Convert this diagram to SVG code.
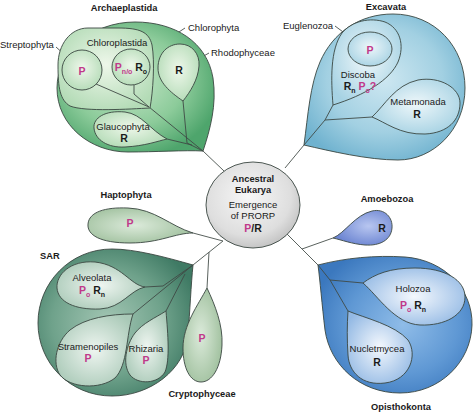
<svg xmlns="http://www.w3.org/2000/svg" width="474" height="413" viewBox="0 0 474 413">
<defs>
<radialGradient id="gArcO" cx="0.45" cy="0.45" r="0.6"><stop offset="0" stop-color="#c6e6c8"/><stop offset="0.6" stop-color="#8ccb9a"/><stop offset="1" stop-color="#4ea56c"/></radialGradient>
<radialGradient id="gArcI" cx="0.5" cy="0.45" r="0.6"><stop offset="0" stop-color="#eef7ea"/><stop offset="1" stop-color="#b3dbb6"/></radialGradient>
<radialGradient id="gExcO" cx="0.5" cy="0.45" r="0.6"><stop offset="0" stop-color="#cde7f1"/><stop offset="0.6" stop-color="#a2d0e2"/><stop offset="1" stop-color="#6fb2cf"/></radialGradient>
<radialGradient id="gExcI" cx="0.5" cy="0.45" r="0.6"><stop offset="0" stop-color="#eef7fa"/><stop offset="1" stop-color="#a6d2e3"/></radialGradient>
<radialGradient id="gOpiO" cx="0.55" cy="0.5" r="0.6"><stop offset="0" stop-color="#8fbce8"/><stop offset="0.6" stop-color="#5f98d4"/><stop offset="1" stop-color="#3b78be"/></radialGradient>
<radialGradient id="gOpiI" cx="0.5" cy="0.5" r="0.6"><stop offset="0" stop-color="#f4f8fd"/><stop offset="1" stop-color="#93b9e4"/></radialGradient>
<radialGradient id="gSarO" cx="0.45" cy="0.5" r="0.6"><stop offset="0" stop-color="#a3c6b4"/><stop offset="0.6" stop-color="#6fa28b"/><stop offset="1" stop-color="#3f7a64"/></radialGradient>
<radialGradient id="gSarI" cx="0.5" cy="0.5" r="0.6"><stop offset="0" stop-color="#eef5f0"/><stop offset="1" stop-color="#a9c9b7"/></radialGradient>
<radialGradient id="gLeaf" cx="0.45" cy="0.5" r="0.6"><stop offset="0" stop-color="#dbeada"/><stop offset="1" stop-color="#9ebf9c"/></radialGradient>
<radialGradient id="gAmo" cx="0.6" cy="0.45" r="0.6"><stop offset="0" stop-color="#b8c6f0"/><stop offset="1" stop-color="#6c85d2"/></radialGradient>
<radialGradient id="gCen" cx="0.45" cy="0.4" r="0.65"><stop offset="0" stop-color="#f7f7f7"/><stop offset="0.7" stop-color="#dedede"/><stop offset="1" stop-color="#bdbdbd"/></radialGradient>
</defs>
<style>
.ol{stroke:#3a4641;stroke-width:0.9}
.ln{stroke:#5a625e;stroke-width:1;fill:none}
.il{stroke:#3f4a45;stroke-width:0.9;fill:none}
text{font-family:"Liberation Sans",Arial,sans-serif;fill:#1a1a1a}
.lb{font-size:9.5px;text-anchor:middle}
.ls{font-size:9.5px}
.tt{font-size:9.3px;font-weight:bold;text-anchor:middle}
.p{fill:#c0398a;font-weight:bold;font-size:10.5px}
.r{font-weight:bold;font-size:10.5px}
.c{text-anchor:middle}
.sub{font-size:7px}
</style>

<g id="connectors">
<line class="ln" x1="203" y1="151" x2="224" y2="171"/>
<line class="ln" x1="304" y1="145" x2="285" y2="168"/>
<line class="ln" x1="223" y1="241" x2="193" y2="233"/>
<line class="ln" x1="223" y1="241" x2="193" y2="265"/>
<line class="ln" x1="209" y1="252" x2="207" y2="288"/>
<line class="ln" x1="286" y1="233" x2="318" y2="265"/>
<line class="ln" x1="302" y1="249" x2="333" y2="238"/>
<line class="ln" x1="56" y1="47" x2="74" y2="63"/>
<line class="ln" x1="185" y1="28" x2="141" y2="57"/>
<line class="ln" x1="209" y1="53" x2="193" y2="62"/>
<line class="ln" x1="335" y1="26" x2="358" y2="43"/>
</g>

<g id="ancestral">
<ellipse cx="253" cy="205" rx="47" ry="43" fill="url(#gCen)" class="ol"/>
<text class="tt" x="253" y="182">Ancestral</text>
<text class="tt" x="253" y="193">Eukarya</text>
<text class="lb" x="253" y="208">Emergence</text>
<text class="lb" x="253" y="219">of PRORP</text>
<text class="c r" x="253" y="232"><tspan class="p">P</tspan>/R</text>
</g>

<g id="archaeplastida">
<path class="ol" fill="url(#gArcO)" d="M203,151 C210,130 217,105 213,78 C207,42 175,22 135,22 C92,22 57,52 57,88 C57,125 90,152 128,152 C155,152 185,150 203,151 Z"/>
<path class="il" d="M96,84 L149,107 L203,151 M134,85 L134,94 L149,107 M183,101 L187,143 L203,151 M167,139 L192,145"/>
<g id="chloroplastida">
<path class="ol" fill="url(#gArcI)" d="M150,108 C153,92 155,62 152,45 C149,32 140,28 118,28 L88,28 C70,28 58,45 58,65 C58,88 60,100 70,106 C85,112 130,109 150,108 Z"/>
<path class="il" d="M96,84 L149,107 M134,85 L134,94 L149,107"/>
<text class="lb" x="117" y="46">Chloroplastida</text>
</g>
<g id="streptophyta">
<circle cx="82" cy="70" r="20" fill="url(#gArcI)" class="ol"/>
<text class="p c" x="82" y="75">P</text>
</g>
<g id="chlorophyta">
<ellipse cx="131" cy="67" rx="19" ry="18" fill="url(#gArcI)" class="ol"/>
<text x="131" y="71" class="c"><tspan class="p">P</tspan><tspan class="p sub" dy="2.5">n/o</tspan><tspan class="r" dy="-2.5"> R</tspan><tspan class="r sub" dy="2.5">o</tspan></text>
</g>
<g id="rhodophyceae">
<path class="ol" fill="url(#gArcI)" d="M183,101 C170,92 158,82 158,68 C158,53 168,44 180,44 C192,44 200,54 199,66 C198,80 190,92 183,101 Z"/>
<text class="r c" x="179" y="74">R</text>
</g>
<g id="glaucophyta">
<path class="ol" fill="url(#gArcI)" d="M167,139 C150,130 142,114 125,112 C105,110 93,118 94,128 C95,140 108,148 125,147 C145,146 158,141 167,139 Z"/>
<text class="lb" x="123" y="130">Glaucophyta</text>
<text class="r c" x="124" y="142">R</text>
</g>
<text class="tt" x="124" y="11">Archaeplastida</text>
<text class="ls" x="0" y="48">Streptophyta</text>
<text class="ls" x="188" y="31">Chlorophyta</text>
<text class="ls" x="211" y="56">Rhodophyceae</text>
</g>

<g id="excavata">
<path class="ol" fill="url(#gExcO)" d="M304,145 C308,115 310,85 320,62 C333,32 360,14 393,14 C435,14 465,47 465,88 C465,130 433,160 398,160 C368,160 330,151 304,145 Z"/>
<path class="il" d="M304,145 L325,120 L333,105 M325,120 L372,117"/>
<g id="discoba">
<path class="ol" fill="url(#gExcI)" d="M333,105 C331,80 330,50 342,33 C352,21 370,17 385,22 C400,28 405,45 398,62 C390,80 365,95 333,105 Z"/>
<text class="lb" x="358" y="78">Discoba</text>
<text x="360" y="90" class="c"><tspan class="r">R</tspan><tspan class="r sub" dy="2.5">n</tspan><tspan class="p" dy="-2.5"> P</tspan><tspan class="p sub" dy="2.5">o</tspan><tspan class="p" dy="-2.5">?</tspan></text>
</g>
<g id="euglenozoa">
<ellipse cx="370" cy="49" rx="22" ry="17" fill="url(#gExcI)" class="ol"/>
<text class="p c" x="370" y="54">P</text>
</g>
<g id="metamonada">
<path class="ol" fill="url(#gExcI)" d="M372,117 C385,105 395,85 418,80 C440,76 460,88 460,103 C460,120 448,133 425,134 C400,135 385,122 372,117 Z"/>
<text class="lb" x="418" y="105">Metamonada</text>
<text class="r c" x="417" y="118">R</text>
</g>
<text class="tt" x="386" y="10">Excavata</text>
<text class="lb" x="308" y="29">Euglenozoa</text>
</g>

<g id="amoebozoa">
<path class="ol" fill="url(#gAmo)" d="M333,238 C345,233 355,215 372,211 C385,208 393,218 392,228 C391,240 380,246 365,245 C352,244 342,240 333,238 Z"/>
<text class="r c" x="382" y="232">R</text>
<text class="tt" x="387" y="202">Amoebozoa</text>
</g>

<g id="opisthokonta">
<path class="ol" fill="url(#gOpiO)" d="M318,265 C345,258 375,255 405,257 C445,260 473,290 472,325 C471,362 440,393 400,393 C360,393 330,365 325,330 C322,305 320,280 318,265 Z"/>
<path class="il" d="M318,265 L330,280 L363,283 M330,280 L348,311"/>
<g id="holozoa">
<path class="ol" fill="url(#gOpiI)" d="M363,283 C375,274 390,268 415,268 C445,268 465,280 465,297 C465,315 445,326 420,325 C395,324 378,296 363,283 Z"/>
<text class="lb" x="413" y="292">Holozoa</text>
<text x="413" y="309" class="c"><tspan class="p">P</tspan><tspan class="p sub" dy="2.5">o</tspan><tspan class="r" dy="-2.5"> R</tspan><tspan class="r sub" dy="2.5">n</tspan></text>
</g>
<g id="nucletmycea">
<path class="ol" fill="url(#gOpiI)" d="M348,311 C365,318 395,325 408,340 C418,355 410,380 385,383 C362,386 349,372 348,355 C347,340 347,325 348,311 Z"/>
<text class="lb" x="377" y="352">Nucletmycea</text>
<text class="r c" x="377" y="366">R</text>
</g>
<text class="tt" x="401" y="410">Opisthokonta</text>
</g>

<g id="haptophyta">
<path class="ol" fill="url(#gLeaf)" d="M193,233 C175,233 160,243 130,243 C100,243 87,235 88,224 C89,212 105,207 128,208 C155,209 170,226 193,233 Z"/>
<text class="p c" x="130" y="227">P</text>
<text class="tt" x="126" y="198">Haptophyta</text>
</g>

<g id="sar">
<path class="ol" fill="url(#gSarO)" d="M193,265 C165,257 135,249 112,249 C70,249 38,283 38,323 C38,363 70,396 112,396 C150,396 185,370 188,335 C190,310 191,285 193,265 Z"/>
<path class="il" d="M145,287 L163,286 L193,265 M133,314 L193,265 M166,311 L185,274"/>
<g id="alveolata">
<path class="ol" fill="url(#gSarI)" d="M145,287 C130,285 122,265 95,262 C70,260 56,275 57,288 C58,302 75,310 100,309 C122,308 130,290 145,287 Z"/>
<text class="lb" x="92" y="281">Alveolata</text>
<text x="92" y="294" class="c"><tspan class="p">P</tspan><tspan class="p sub" dy="2.5">o</tspan><tspan class="r" dy="-2.5"> R</tspan><tspan class="r sub" dy="2.5">n</tspan></text>
</g>
<g id="stramenopiles">
<path class="ol" fill="url(#gSarI)" d="M133,314 C126,335 128,365 115,378 C100,390 70,388 60,375 C52,363 56,342 70,330 C85,318 110,314 133,314 Z"/>
<text class="lb" x="88" y="350">Stramenopiles</text>
<text class="p c" x="88" y="362">P</text>
</g>
<g id="rhizaria">
<path class="ol" fill="url(#gSarI)" d="M166,311 C168,335 170,360 165,372 C158,384 138,385 130,375 C122,364 126,345 135,333 C143,323 155,318 166,311 Z"/>
<text class="lb" x="146" y="352">Rhizaria</text>
<text class="p c" x="146" y="364">P</text>
</g>
<text class="tt" x="40" y="259" style="text-anchor:start">SAR</text>
</g>

<g id="cryptophyceae">
<path class="ol" fill="url(#gLeaf)" d="M207,288 C215,305 223,325 222,345 C221,368 212,382 201,382 C190,382 183,368 183,348 C183,325 198,305 207,288 Z"/>
<text class="p c" x="202" y="342">P</text>
<text class="tt" x="202" y="397">Cryptophyceae</text>
</g>
</svg>
